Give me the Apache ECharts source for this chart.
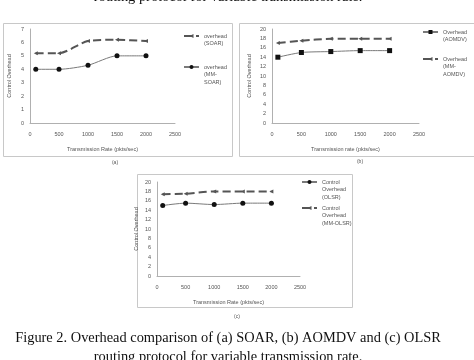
<!DOCTYPE html>
<html><head><meta charset="utf-8">
<script src="https://cdn.jsdelivr.net/npm/echarts@6/dist/echarts.min.js"></script>
<style>html,body{margin:0;padding:0;background:#fff}#c{width:474px;height:360px}</style>
</head><body><div id="c"></div>
<script>
// ---- data ----
const xRates = [100, 500, 1000, 1500, 2000];
const soar = [5.2, 5.2, 6.1, 6.2, 6.1];
const mmSoar = [4.0, 4.0, 4.3, 5.0, 5.0];
const aomdv = [14.0, 15.0, 15.2, 15.4, 15.4];
const mmAomdv = [17.0, 17.5, 17.9, 17.9, 17.9];
const olsr = [15.0, 15.5, 15.2, 15.5, 15.5];
const mmOlsr = [17.4, 17.5, 18.0, 18.0, 18.0];
const xTicks = [0, 500, 1000, 1500, 2000, 2500];
const seriesNames = {
  soar: 'overhead (SOAR)', mmSoar: 'overhead (MM-SOAR)',
  aomdv: 'Overhead (AOMDV)', mmAomdv: 'Overhead (MM-AOMDV)',
  olsr: 'Control Overhead (OLSR)', mmOlsr: 'Control Overhead (MM-OLSR)'
};
const legendLines = {
  'overhead (SOAR)': ['overhead', '(SOAR)'],
  'overhead (MM-SOAR)': ['overhead', '(MM-', 'SOAR)'],
  'Overhead (AOMDV)': ['Overhead', '(AOMDV)'],
  'Overhead (MM-AOMDV)': ['Overhead', '(MM-', 'AOMDV)'],
  'Control Overhead (OLSR)': ['Control', 'Overhead', '(OLSR)'],
  'Control Overhead (MM-OLSR)': ['Control', 'Overhead', '(MM-OLSR)']
};
const captionTop = 'routing protocol for variable transmission rate.';
const caption1 = 'Figure 2. Overhead comparison of (a) SOAR, (b) AOMDV and (c) OLSR';
const caption2 = 'routing protocol for variable transmission rate.';

// ---- build ----
const pts = arr => xRates.map((x, i) => [x, arr[i]]);
const LH = 7.5;
const labelStyle = {fontSize: 5.5, color: '#555', fontFamily: 'Liberation Sans'};
function xAx(gi, name) {
  return {gridIndex: gi, type: 'value', min: xTicks[0], max: xTicks[xTicks.length - 1], interval: xTicks[1] - xTicks[0],
    axisLine: {show: true, lineStyle: {color: '#b0b0b0'}}, axisTick: {show: false},
    splitLine: {show: false}, axisLabel: Object.assign({margin: 8, formatter: v => String(v)}, labelStyle),
    name: name, nameLocation: 'middle', nameGap: 23, nameTextStyle: labelStyle};
}
function yAx(gi, max, interval, gap) {
  return {gridIndex: gi, type: 'value', min: 0, max: max, interval: interval,
    axisLine: {show: true, lineStyle: {color: '#b0b0b0'}}, axisTick: {show: false},
    splitLine: {show: false}, axisLabel: Object.assign({margin: 6}, labelStyle),
    name: 'Control Overhead', nameLocation: 'middle', nameGap: gap, nameRotate: 90, nameTextStyle: labelStyle};
}
function dashed(name, arr, gi) {
  return {type: 'line', name: name, xAxisIndex: gi, yAxisIndex: gi, data: pts(arr), smooth: 0.25,
    symbol: 'triangle', symbolRotate: 90, symbolSize: 4,
    lineStyle: {type: [8, 4], width: 2, color: '#555'}, itemStyle: {color: '#555'}};
}
function solid(name, arr, gi, sym) {
  return {type: 'line', name: name, xAxisIndex: gi, yAxisIndex: gi, data: pts(arr), smooth: 0.25,
    symbol: sym, symbolSize: 5,
    lineStyle: {width: 1, color: '#7a7a7a'}, itemStyle: {color: '#111'}};
}
function leg(name, left, iconCenter) {
  const n = legendLines[name].length;
  return {data: [name], orient: 'vertical', left: left, top: iconCenter - (2 * n - 1) * LH / 2,
    padding: 0, itemWidth: 15, itemHeight: 5, itemGap: 0,
    textStyle: Object.assign({lineHeight: LH}, labelStyle),
    formatter: nm => { const l = legendLines[nm]; return new Array(l.length - 1).fill('').concat(l).join('\n'); }};
}
const capFont = '14.4px "Liberation Serif"';
const chart = echarts.init(document.getElementById('c'), null, {renderer: 'canvas'});
chart.setOption({
  backgroundColor: '#fff',
  animation: false,
  grid: [
    {left: 30, top: 29, width: 145, height: 94},
    {left: 272, top: 29, width: 147, height: 94},
    {left: 157, top: 182, width: 143, height: 94}
  ],
  xAxis: [xAx(0, 'Transmission Rate (pkts/sec)'), xAx(1, 'Transmission rate (pkts/sec)'), xAx(2, 'Transmission Rate (pkts/sec)')],
  yAxis: [yAx(0, 7, 1, 18), yAx(1, 20, 2, 20), yAx(2, 20, 2, 18)],
  legend: [
    leg(seriesNames.soar, 183, 36), leg(seriesNames.mmSoar, 183, 67),
    leg(seriesNames.aomdv, 422, 32), leg(seriesNames.mmAomdv, 422, 59),
    leg(seriesNames.olsr, 301, 182), leg(seriesNames.mmOlsr, 301, 208)
  ],
  series: [
    dashed(seriesNames.soar, soar, 0), solid(seriesNames.mmSoar, mmSoar, 0, 'circle'),
    solid(seriesNames.aomdv, aomdv, 1, 'rect'), dashed(seriesNames.mmAomdv, mmAomdv, 1),
    solid(seriesNames.olsr, olsr, 2, 'circle'), dashed(seriesNames.mmOlsr, mmOlsr, 2)
  ],
  graphic: [
    {type: 'rect', shape: {x: 3.5, y: 23.5, width: 229, height: 133}, style: {fill: 'none', stroke: '#c8c8c8', lineWidth: 1}, silent: true},
    {type: 'rect', shape: {x: 239.5, y: 23.5, width: 240, height: 133}, style: {fill: 'none', stroke: '#c8c8c8', lineWidth: 1}, silent: true},
    {type: 'rect', shape: {x: 137.5, y: 174.5, width: 215, height: 133}, style: {fill: 'none', stroke: '#c8c8c8', lineWidth: 1}, silent: true},
    {type: 'text', x: 115, y: 163, style: {text: '(a)', fontSize: 5, fill: '#555', align: 'center', verticalAlign: 'middle'}},
    {type: 'text', x: 360, y: 162, style: {text: '(b)', fontSize: 5, fill: '#555', align: 'center', verticalAlign: 'middle'}},
    {type: 'text', x: 237, y: 317, style: {text: '(c)', fontSize: 5, fill: '#555', align: 'center', verticalAlign: 'middle'}},
    {type: 'text', x: 228, y: -3, style: {text: captionTop, font: capFont, fill: '#111', align: 'center', verticalAlign: 'middle'}},
    {type: 'text', x: 228, y: 338, style: {text: caption1, font: capFont, fill: '#111', align: 'center', verticalAlign: 'middle'}},
    {type: 'text', x: 228, y: 357, style: {text: caption2, font: capFont, fill: '#111', align: 'center', verticalAlign: 'middle'}}
  ]
});
</script></body></html>
